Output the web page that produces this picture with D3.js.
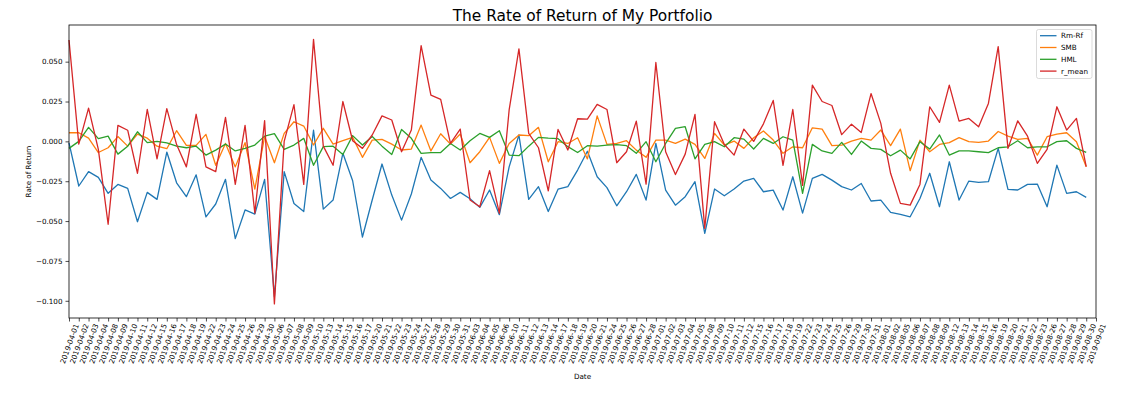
<!DOCTYPE html>
<html>
<head>
<meta charset="utf-8">
<script src="https://cdn.jsdelivr.net/npm/d3@7"></script>
<style>
  body { margin: 0; background: #fff; }
  text { font-family: "DejaVu Sans", sans-serif; fill: #000; }
</style>
</head>
<body>
<div id="chart"></div>
<script>
// trading days (last category has no data, it only stretches the axis)
var dates = [
  '2019-04-01','2019-04-02','2019-04-03','2019-04-04','2019-04-08','2019-04-09','2019-04-10','2019-04-11','2019-04-12',
  '2019-04-15','2019-04-16','2019-04-17','2019-04-18','2019-04-19','2019-04-22','2019-04-23','2019-04-24','2019-04-25',
  '2019-04-26','2019-04-29','2019-04-30','2019-05-06','2019-05-07','2019-05-08','2019-05-09','2019-05-10','2019-05-13',
  '2019-05-14','2019-05-15','2019-05-16','2019-05-17','2019-05-20','2019-05-21','2019-05-22','2019-05-23','2019-05-24',
  '2019-05-27','2019-05-28','2019-05-29','2019-05-30','2019-05-31','2019-06-03','2019-06-04','2019-06-05','2019-06-06',
  '2019-06-10','2019-06-11','2019-06-12','2019-06-13','2019-06-14','2019-06-17','2019-06-18','2019-06-19','2019-06-20',
  '2019-06-21','2019-06-24','2019-06-25','2019-06-26','2019-06-27','2019-06-28','2019-07-01','2019-07-02','2019-07-03',
  '2019-07-04','2019-07-05','2019-07-08','2019-07-09','2019-07-10','2019-07-11','2019-07-12','2019-07-15','2019-07-16',
  '2019-07-17','2019-07-18','2019-07-19','2019-07-22','2019-07-23','2019-07-24','2019-07-25','2019-07-26','2019-07-29',
  '2019-07-30','2019-07-31','2019-08-01','2019-08-02','2019-08-05','2019-08-06','2019-08-07','2019-08-08','2019-08-09',
  '2019-08-12','2019-08-13','2019-08-14','2019-08-15','2019-08-16','2019-08-19','2019-08-20','2019-08-21','2019-08-22',
  '2019-08-23','2019-08-26','2019-08-27','2019-08-28','2019-08-29','2019-08-30','2019-09-01'
];

var rm_rf = [
  -0.001,-0.028,-0.019,-0.0226,-0.0326,-0.027,-0.0295,-0.0504,-0.032,-0.0364,
  -0.0067,-0.026,-0.0347,-0.021,-0.0473,-0.0393,-0.0238,-0.061,-0.043,-0.0456,
  -0.0238,-0.0975,-0.019,-0.039,-0.044,0.007,-0.0425,-0.0368,-0.0075,-0.0247,
  -0.060,-0.0368,-0.0142,-0.0337,-0.0494,-0.033,-0.010,-0.0243,-0.0295,-0.0358,
  -0.032,-0.036,-0.0414,-0.0305,-0.046,-0.016,0.004,-0.0364,-0.0284,-0.044,
  -0.030,-0.0284,-0.018,-0.0062,-0.0222,-0.029,-0.0404,-0.0316,-0.0207,-0.0368,
  -0.0013,-0.0306,-0.040,-0.0347,-0.0253,-0.0577,-0.0299,-0.0341,-0.0299,-0.0249,
  -0.0232,-0.0316,-0.0306,-0.0431,-0.0222,-0.045,-0.0232,-0.0207,-0.0243,-0.0284,
  -0.0305,-0.0264,-0.0374,-0.0368,-0.0446,-0.0458,-0.0473,-0.0358,-0.020,-0.041,
  -0.0128,-0.0368,-0.0249,-0.0257,-0.0253,-0.0044,-0.0301,-0.0305,-0.027,-0.0268,
  -0.041,-0.0149,-0.0326,-0.0316,-0.0351
];

var smb = [
  0.0054,0.0054,0.002,-0.007,-0.004,0.003,-0.003,0.0046,0.002,-0.003,
  -0.0046,0.0067,-0.0025,-0.0025,0.0044,-0.015,-0.0013,-0.016,-0.0008,-0.030,
  0.003,-0.0134,0.005,0.0123,0.0096,-0.0023,0.0082,-0.0017,0.0004,0.0025,
  -0.010,0.0008,0.0013,-0.0017,-0.0054,-0.0048,0.0102,-0.006,0.0048,-0.0017,
  0.0046,-0.0134,-0.0065,0.0025,-0.0138,-0.0013,0.004,0.0036,0.0088,-0.0128,
  -0.0002,-0.0013,0.0023,-0.011,0.016,-0.0019,-0.0013,0.0004,-0.0055,-0.010,
  0.0008,0.0008,-0.0013,0.0014,-0.0019,-0.0107,0.005,-0.0023,0.0002,-0.0044,
  0.0023,0.0065,0.0008,-0.0075,-0.0034,-0.004,0.0085,0.0077,-0.0027,-0.0023,
  0.0002,0.0019,0.0008,0.0071,-0.0027,0.0077,-0.0184,0.0008,-0.0065,-0.0019,
  -0.0008,0.0023,-0.0002,-0.0006,0.0002,0.0062,0.0033,0.0012,0.0019,-0.0086,
  0.0029,0.0046,0.0054,-0.0002,-0.0159
];

var hml = [
  -0.0044,0.000,0.0088,0.0017,0.0033,-0.008,-0.003,0.006,-0.0008,0.000,
  -0.001,-0.003,-0.004,-0.003,-0.0086,-0.0055,-0.0017,-0.006,-0.0044,-0.0023,
  0.0033,0.0048,-0.005,-0.0023,0.0019,-0.015,-0.0033,-0.003,-0.0082,0.0036,
  -0.0023,0.003,-0.003,-0.0082,0.0075,0.0019,-0.0075,-0.007,-0.007,-0.0013,
  -0.0054,0.0004,0.005,0.0025,0.0067,-0.0086,-0.009,-0.003,0.0025,0.002,
  0.0017,-0.0033,-0.007,-0.0027,-0.003,-0.0023,-0.002,-0.0027,-0.0075,-0.0002,
  -0.0128,-0.0013,0.0081,0.0092,-0.011,-0.0019,-0.0002,-0.0034,0.0023,0.0014,
  -0.0048,0.0019,-0.0013,0.0029,0.0008,-0.0326,-0.0019,-0.006,-0.0075,-0.0006,
  -0.0082,0.0002,-0.0044,-0.005,-0.009,-0.0055,-0.011,-0.0002,-0.0048,0.004,
  -0.0086,-0.006,-0.0059,-0.0065,-0.0071,-0.004,-0.0034,0.0004,-0.004,-0.0034,
  -0.0034,-0.0002,0.0004,-0.0044,-0.0069
];

var r_mean = [
  0.0636,-0.0017,0.0209,-0.005,-0.052,0.010,0.007,-0.020,0.020,-0.011,
  0.0205,-0.002,-0.016,0.017,-0.016,-0.019,0.015,-0.027,0.010,-0.045,
  0.013,-0.102,0.000,0.023,-0.027,0.064,-0.003,-0.015,0.025,0.0004,
  -0.0044,0.004,0.016,0.0134,-0.0065,0.0071,0.060,0.029,0.0263,-0.0013,
  0.0077,-0.0368,-0.041,-0.0184,-0.045,0.0197,0.058,0.005,-0.004,-0.031,
  0.0075,-0.0054,0.0142,0.014,0.0232,0.020,-0.0134,-0.0065,0.0127,-0.0268,
  0.0495,-0.0065,-0.0208,-0.008,0.0169,-0.0546,0.0123,-0.002,-0.0086,0.0077,
  0.000,0.011,0.0257,-0.015,0.020,-0.0276,0.0353,0.025,0.0225,0.0042,
  0.0108,0.0056,0.030,0.0113,-0.020,-0.0389,-0.040,-0.027,0.0217,0.0119,
  0.0353,0.0127,0.0144,0.0092,0.0238,0.0594,-0.0044,0.0129,0.0033,-0.0138,
  -0.005,0.0217,0.0071,0.0144,-0.0159
];

var series_names = ['Rm-Rf', 'SMB', 'HML', 'r_mean'];
var series_values = [rm_rf, smb, hml, r_mean];
var series_colors = ['#1f77b4', '#ff7f0e', '#2ca02c', '#d62728'];
var y_ticks = [-0.100, -0.075, -0.050, -0.025, 0.000, 0.025, 0.050];

var width = 1135, height = 395;
var margin = {top: 25, right: 39, bottom: 77, left: 69};

var svg = d3.select('#chart').append('svg')
    .attr('width', width)
    .attr('height', height);

var x = d3.scalePoint()
    .domain(dates)
    .range([margin.left, width - margin.right])
    .padding(0);

var y = d3.scaleLinear()
    .domain([-0.1108, 0.0730])
    .range([height - margin.bottom, margin.top]);

// title + axis labels
svg.append('text')
    .attr('x', (margin.left + width - margin.right) / 2)
    .attr('y', 21)
    .attr('text-anchor', 'middle')
    .attr('font-size', '15.4px')
    .text('The Rate of Return of My Portfolio');

svg.append('text')
    .attr('transform', 'translate(30.5,' + ((margin.top + height - margin.bottom) / 2) + ') rotate(-90)')
    .attr('text-anchor', 'middle')
    .attr('font-size', '7.2px')
    .text('Rate of Return');

svg.append('text')
    .attr('x', (margin.left + width - margin.right) / 2)
    .attr('y', 379)
    .attr('text-anchor', 'middle')
    .attr('font-size', '7.2px')
    .text('Date');

// y axis
var y_axis = svg.append('g')
    .attr('transform', 'translate(' + margin.left + ',0)')
    .call(d3.axisLeft(y).tickValues(y_ticks).tickFormat(d3.format('.3f')).tickSize(3.5).tickPadding(3));
y_axis.select('.domain').remove();
y_axis.selectAll('line').attr('stroke', '#000').attr('stroke-width', 0.7);
y_axis.selectAll('text').attr('font-size', '7.2px').attr('font-family', '"DejaVu Sans", sans-serif');

// x axis
var x_axis = svg.append('g')
    .attr('transform', 'translate(0,' + (height - margin.bottom) + ')')
    .call(d3.axisBottom(x).tickSize(3.5));
x_axis.select('.domain').remove();
x_axis.selectAll('line').attr('stroke', '#000').attr('stroke-width', 0.7);
x_axis.selectAll('text')
    .attr('font-size', '7.2px')
    .attr('font-family', '"DejaVu Sans", sans-serif')
    .attr('text-anchor', 'end')
    .attr('dy', null)
    .attr('y', null)
    .attr('transform', 'translate(9.5,7) rotate(-70)');

// lines
var line = d3.line()
    .x(function(d, i) { return x(dates[i]); })
    .y(function(d) { return y(d); });

svg.selectAll('path.series')
    .data(series_values)
    .enter()
    .append('path')
    .attr('class', 'series')
    .attr('d', line)
    .attr('fill', 'none')
    .attr('stroke', function(d, i) { return series_colors[i]; })
    .attr('stroke-width', 1.3)
    .attr('stroke-linejoin', 'round');

// frame
svg.append('rect')
    .attr('x', margin.left)
    .attr('y', margin.top)
    .attr('width', width - margin.left - margin.right)
    .attr('height', height - margin.top - margin.bottom)
    .attr('fill', 'none')
    .attr('stroke', '#000')
    .attr('stroke-width', 0.8);

// legend
var legend = svg.append('g').attr('transform', 'translate(1036.5,29.5)');
legend.append('rect')
    .attr('width', 55.5)
    .attr('height', 49)
    .attr('rx', 2)
    .attr('fill', '#fff')
    .attr('fill-opacity', 0.8)
    .attr('stroke', '#cccccc')
    .attr('stroke-width', 0.7);

var entry = legend.selectAll('g.entry')
    .data(series_names)
    .enter()
    .append('g')
    .attr('class', 'entry')
    .attr('transform', function(d, i) { return 'translate(0,' + (6.2 + i * 11.8) + ')'; });

entry.append('line')
    .attr('x1', 3.5)
    .attr('x2', 20)
    .attr('stroke', function(d, i) { return series_colors[i]; })
    .attr('stroke-width', 1.3);

entry.append('text')
    .attr('x', 24.5)
    .attr('y', 2.6)
    .attr('font-size', '7.2px')
    .text(function(d) { return d; });
</script>
</body>
</html>
